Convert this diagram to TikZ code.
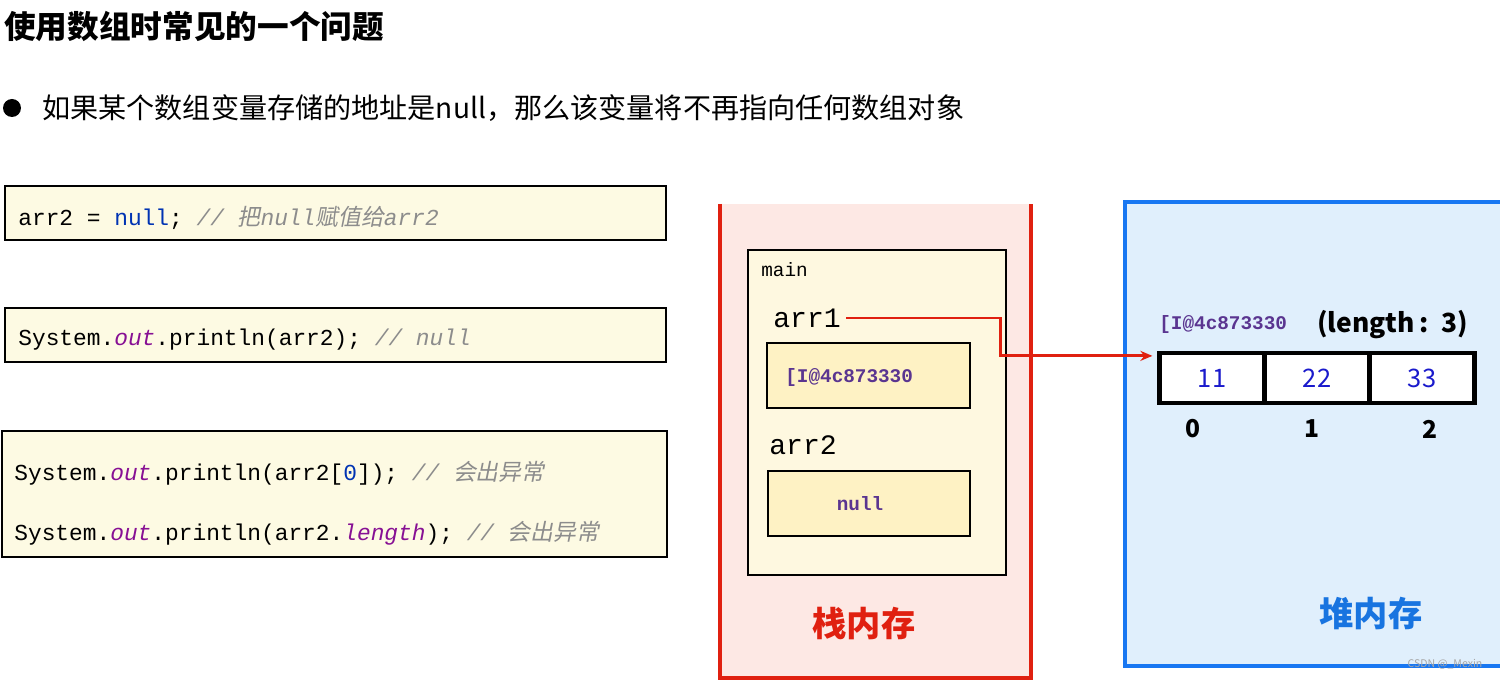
\documentclass[tikz,border=0pt]{standalone}
\usepackage{fontspec}
\setmainfont{Noto Sans CJK SC}
\setmonofont{Liberation Mono}
\newfontfamily\cjkit{Noto Sans CJK SC}[FakeSlant=0.2]
\usetikzlibrary{arrows.meta}

\definecolor{codebg}{HTML}{FDFAE3}
\definecolor{stackbg}{HTML}{FDE8E4}
\definecolor{stackred}{HTML}{E02010}
\definecolor{framebg}{HTML}{FEF8E0}
\definecolor{varbg}{HTML}{FEF2C4}
\definecolor{heapbg}{HTML}{E0EFFC}
\definecolor{heapblue}{HTML}{1877F2}
\definecolor{heaptext}{HTML}{1874E0}
\definecolor{addrpurple}{HTML}{5A3590}
\definecolor{numblue}{HTML}{1A1ACC}
\definecolor{kwblue}{HTML}{0033B3}
\definecolor{fieldpurple}{HTML}{871094}
\definecolor{cmtgray}{HTML}{8C8C8C}

\newcommand{\cmt}[1]{{\color{cmtgray}\itshape #1}}
\newcommand{\fld}[1]{{\color{fieldpurple}\itshape #1}}

\begin{document}
\begin{tikzpicture}[x=0.2mm, y=-0.2mm, >={Stealth[length=2.4mm, width=2mm]},
  every node/.style={inner sep=0pt},
  codebox/.style={draw=black, line width=1.2pt, fill=codebg},
  varbox/.style={draw=black, line width=1.2pt, fill=varbg},
  code/.style={anchor=west, font=\ttfamily\fontsize{13}{15}\selectfont},
  varname/.style={anchor=west, font=\ttfamily\fontsize{16}{18}\selectfont},
  addr/.style={font=\ttfamily\bfseries\fontsize{11}{13}\selectfont, text=addrpurple},
  cell/.style={draw=black, line width=2.4pt, fill=white, minimum width=21mm,
    minimum height=10mm, font=\fontsize{14.5}{16}\selectfont, text=numblue},
  index/.style={font=\bfseries\fontsize{14}{16}\selectfont}]
  \useasboundingbox (0,0) rectangle (1500,681);

  % heading
  \node[anchor=west, font=\bfseries\fontsize{18}{20}\selectfont] (title) at (4,26) {使用数组时常见的一个问题};
  \fill (12,108) circle (9);
  \node[anchor=west, font=\fontsize{16}{18}\selectfont] (point) at (42,108)
    {如果某个数组变量存储的地址是null，那么该变量将不再指向任何数组对象};

  % code
  \filldraw[codebox] (5,186) rectangle (666,240);
  \node[code] (line1) at (18,218) {arr2 = {\color{kwblue}null}; \cmt{// {\cjkit 把}null{\cjkit 赋值给}arr2}};
  \filldraw[codebox] (5,308) rectangle (666,362);
  \node[code] (line2) at (18,340) {System.\fld{out}.println(arr2); \cmt{// null}};
  \filldraw[codebox] (2,431) rectangle (667,557);
  \node[code] (line3) at (14,473) {System.\fld{out}.println(arr2[{\color{kwblue}0}]); \cmt{// {\cjkit 会出异常}}};
  \node[code] (line4) at (14,533) {System.\fld{out}.println(arr2.\fld{length}); \cmt{// {\cjkit 会出异常}}};

  % stack
  \fill[stackbg] (720,204) rectangle (1031,679);
  \draw[stackred, line width=2pt] (720,204) -- (720,678) -- (1031,678) -- (1031,204);
  \filldraw[draw=black, line width=1.2pt, fill=framebg] (748,250) rectangle (1006,575);
  \node[anchor=west, font=\ttfamily\fontsize{11}{13}\selectfont] (main) at (761,270) {main};
  \node[varname] (arr1) at (773,318) {arr1};
  \filldraw[varbox] (767,343) rectangle (970,408);
  \node[addr, anchor=west] (addr1) at (785,378) {[I@4c873330};
  \node[varname] (arr2) at (769,445) {arr2};
  \filldraw[varbox] (768,471) rectangle (970,536);
  \node[addr] (null2) at (860,504) {null};
  \node[font=\bfseries\fontsize{19.5}{22}\selectfont, text=stackred] (stack) at (864,623) {栈内存};

  % heap
  \filldraw[fill=heapbg, draw=heapblue, line width=2.6pt] (1125,202) rectangle (1530,666);
  \node[addr, anchor=west] (addr2) at (1159,325) {[I@4c873330};
  \node[anchor=west, font=\bfseries\fontsize{15}{18}\selectfont] (len) at (1317,325) {(length\,:\, 3)};
  \foreach \v [count=\i from 0] in {11,22,33}
    \node[cell] (cell\i) at (1212+105*\i,378) {\v};
  \foreach \x [count=\i from 0] in {1193,1312,1430}
    \node[index] (idx\i) at (\x,429) {\i};
  \node[font=\bfseries\fontsize{19.5}{22}\selectfont, text=heaptext] (heap) at (1371,613) {堆内存};
  \node[font=\fontsize{6}{7}\selectfont, text=gray!70] (mark) at (1445,664) {CSDN @\_Mexin};

  % reference
  \coordinate (bend) at (1000,314);
  \draw[->, stackred, line width=1.7pt, shorten >=1mm] ([xshift=1mm]arr1.east) -- (arr1.east -| bend)
    |- ([yshift=-1mm]cell0.north west);
\end{tikzpicture}
\end{document}
